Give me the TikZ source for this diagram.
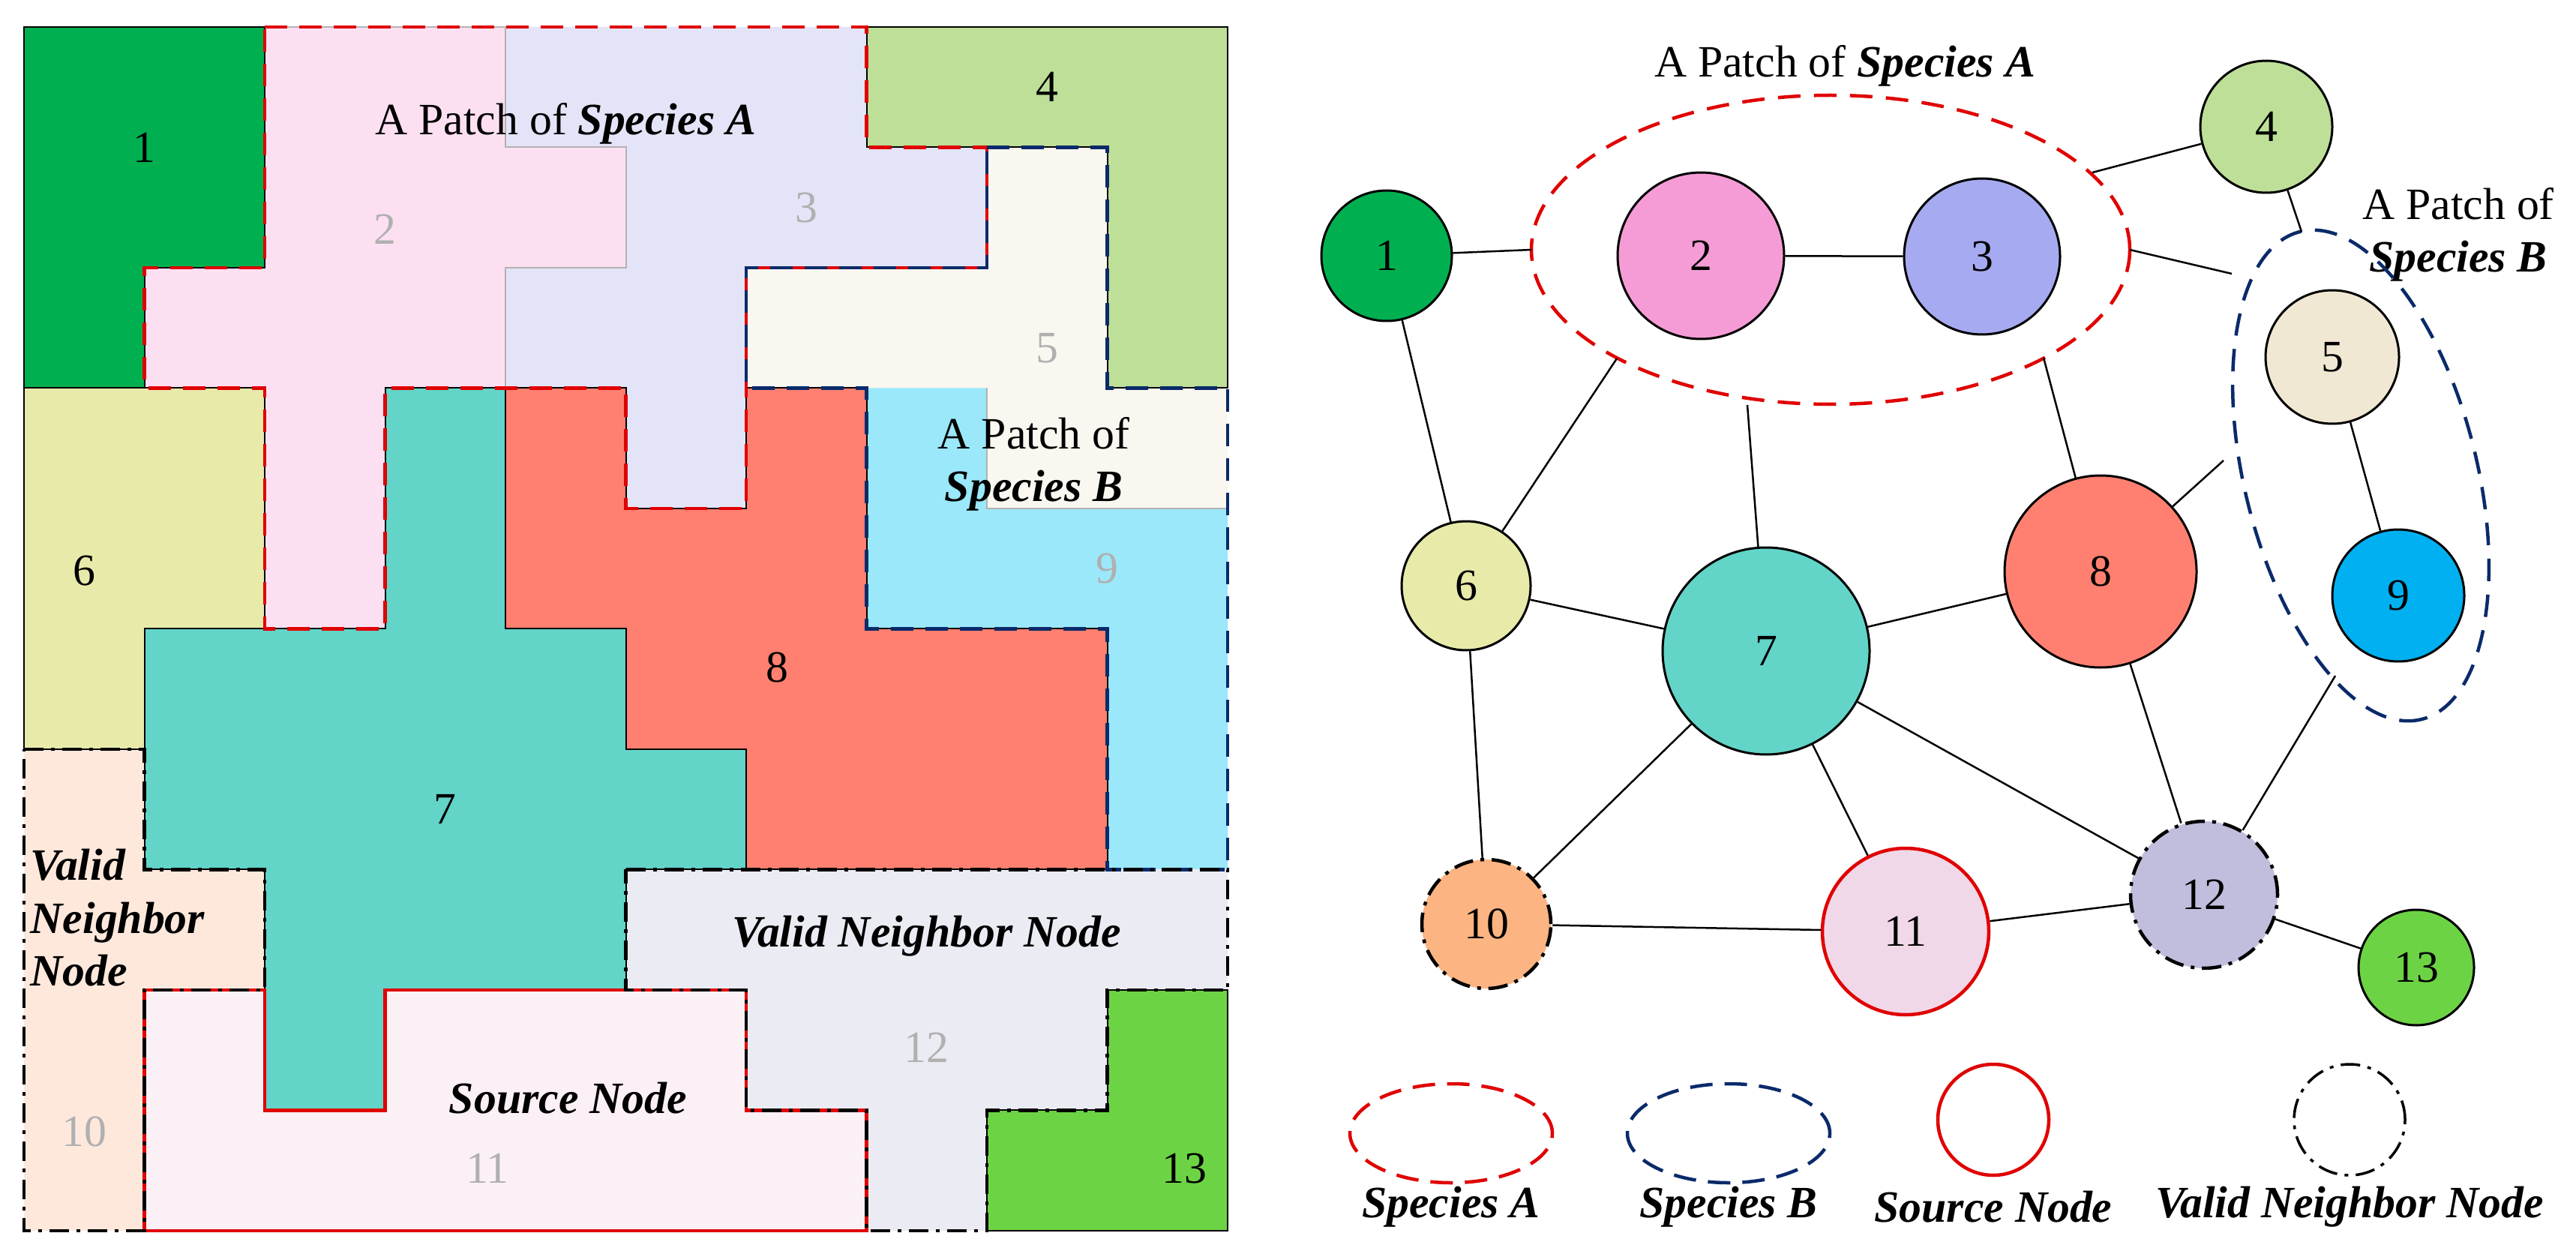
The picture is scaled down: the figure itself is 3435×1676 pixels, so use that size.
\documentclass[tikz,border=0pt]{standalone}
\usepackage{fontspec}
\setmainfont{Liberation Serif}
\usetikzlibrary{shapes.geometric}
\definecolor{c1}{HTML}{00B050}\definecolor{c2}{HTML}{FCE0F2}\definecolor{c3}{HTML}{E4E4F8}
\definecolor{c4}{HTML}{BEDF98}\definecolor{c5}{HTML}{FAF6F0}\definecolor{c6}{HTML}{E8EAAA}
\definecolor{c7}{HTML}{62D4C8}\definecolor{c8}{HTML}{FF8070}\definecolor{c9}{HTML}{9AE8FA}
\definecolor{c10}{HTML}{FEE8DC}\definecolor{c11}{HTML}{FBF0F6}\definecolor{c12}{HTML}{EBEBF3}
\definecolor{c13}{HTML}{6CD444}
\definecolor{n2}{HTML}{F59CD6}\definecolor{n3}{HTML}{A6AAF0}\definecolor{n5}{HTML}{F0E8D2}
\definecolor{n9}{HTML}{00B0F0}\definecolor{n10}{HTML}{FCB482}\definecolor{n11}{HTML}{F0D8E8}
\definecolor{n12}{HTML}{C0BEDC}
\definecolor{redA}{HTML}{E00000}\definecolor{navyB}{HTML}{0A2A6A}\definecolor{gnum}{HTML}{B0B0B0}
\tikzset{
  reg/.style={draw=black, line width=0.2mm},
  regg/.style={draw=black!30, line width=0.2mm},
  patchA/.style={draw=redA, line width=0.45mm, dash pattern=on 3mm off 1.6mm},
  patchB/.style={draw=navyB, line width=0.45mm, dash pattern=on 3mm off 1.6mm},
  valid/.style={draw=black, line width=0.45mm, dash pattern=on 2.6mm off 1mm on 0.5mm off 1mm},
  source/.style={draw=redA, line width=0.45mm},
  lbl/.style={font=\fontsize{17}{20}\selectfont, inner sep=0, align=center},
  glbl/.style={lbl, text=gnum},
  bi/.style={font=\fontsize{17}{20}\selectfont\bfseries\itshape},
  nd/.style={circle, draw=black, line width=0.3mm, inner sep=0, font=\fontsize{17}{20}\selectfont},
  ed/.style={draw=black, line width=0.25mm},
}
\begin{document}
\begin{tikzpicture}[x=0.1mm, y=-0.1mm]
\useasboundingbox (0,0) rectangle (3435,1676);
% ---------------- left grid ----------------
\begin{scope}[shift={(32,36)}, x=16.05mm, y=-16.05mm]
\fill[c1] (0,0)--(2,0)--(2,2)--(1,2)--(1,3)--(0,3)--cycle;
\fill[c2] (2,0)--(4,0)--(4,1)--(5,1)--(5,2)--(4,2)--(4,3)--(3,3)--(3,5)--(2,5)--(2,3)--(1,3)--(1,2)--(2,2)--cycle;
\fill[c3] (4,0)--(7,0)--(7,1)--(8,1)--(8,2)--(6,2)--(6,4)--(5,4)--(5,3)--(4,3)--(4,2)--(5,2)--(5,1)--(4,1)--cycle;
\fill[c4] (7,0)--(10,0)--(10,3)--(9,3)--(9,1)--(7,1)--cycle;
\fill[c5] (8,1)--(9,1)--(9,3)--(10,3)--(10,4)--(8,4)--(8,3)--(6,3)--(6,2)--(8,2)--cycle;
\fill[c9] (7,3)--(8,3)--(8,4)--(10,4)--(10,7)--(9,7)--(9,5)--(7,5)--cycle;
\fill[c8] (4,3)--(5,3)--(5,4)--(6,4)--(6,3)--(7,3)--(7,5)--(9,5)--(9,7)--(6,7)--(6,6)--(5,6)--(5,5)--(4,5)--cycle;
\fill[c7] (3,3)--(4,3)--(4,5)--(5,5)--(5,6)--(6,6)--(6,7)--(5,7)--(5,8)--(3,8)--(3,9)--(2,9)--(2,7)--(1,7)--(1,5)--(3,5)--cycle;
\fill[c6] (0,3)--(2,3)--(2,5)--(1,5)--(1,6)--(0,6)--cycle;
\fill[c10] (0,6)--(1,6)--(1,7)--(2,7)--(2,8)--(1,8)--(1,10)--(0,10)--cycle;
\fill[c11] (1,8)--(2,8)--(2,9)--(3,9)--(3,8)--(6,8)--(6,9)--(7,9)--(7,10)--(1,10)--cycle;
\fill[c12] (5,7)--(10,7)--(10,8)--(9,8)--(9,9)--(8,9)--(8,10)--(7,10)--(7,9)--(6,9)--(6,8)--(5,8)--cycle;
\fill[c13] (9,8)--(10,8)--(10,10)--(8,10)--(8,9)--(9,9)--cycle;
% thin outlines
\draw[regg] (2,0)--(4,0)--(4,1)--(5,1)--(5,2)--(4,2)--(4,3)--(3,3)--(3,5)--(2,5)--(2,3)--(1,3)--(1,2)--(2,2)--cycle;
\draw[regg] (8,3)--(8,4)--(10,4);
\draw[reg] (0,0)--(2,0)--(2,2)--(1,2)--(1,3)--(0,3)--cycle;
\draw[reg] (7,0)--(10,0)--(10,3)--(9,3)--(9,1)--(7,1)--cycle;
\draw[reg] (4,3)--(5,3)--(5,4)--(6,4)--(6,3)--(7,3)--(7,5)--(9,5)--(9,7)--(6,7)--(6,6)--(5,6)--(5,5)--(4,5)--cycle;
\draw[reg] (3,3)--(4,3)--(4,5)--(5,5)--(5,6)--(6,6)--(6,7)--(5,7)--(5,8)--(3,8)--(3,9)--(2,9)--(2,7)--(1,7)--(1,5)--(3,5)--cycle;
\draw[reg] (0,3)--(2,3)--(2,5)--(1,5)--(1,6)--(0,6)--cycle;
\draw[reg] (9,8)--(10,8)--(10,10)--(8,10)--(8,9)--(9,9)--cycle;
% patches and special nodes
\draw[patchA] (2,0)--(7,0)--(7,1)--(8,1)--(8,2)--(6,2)--(6,4)--(5,4)--(5,3)--(3,3)--(3,5)--(2,5)--(2,3)--(1,3)--(1,2)--(2,2)--cycle;
\draw[patchB] (8,1)--(9,1)--(9,3)--(10,3)--(10,7)--(9,7)--(9,5)--(7,5)--(7,3)--(6,3)--(6,2)--(8,2)--cycle;
\draw[source] (1,8)--(2,8)--(2,9)--(3,9)--(3,8)--(6,8)--(6,9)--(7,9)--(7,10)--(1,10)--cycle;
\draw[valid] (0,6)--(1,6)--(1,7)--(2,7)--(2,8)--(1,8)--(1,10)--(0,10)--cycle;
\draw[valid] (5,7)--(10,7)--(10,8)--(9,8)--(9,9)--(8,9)--(8,10)--(7,10)--(7,9)--(6,9)--(6,8)--(5,8)--cycle;
% labels
\node[lbl] (g1) at (1,1) {1};
\node[glbl] (g2) at (3,1.68) {2};
\node[glbl] (g3) at (6.5,1.5) {3};
\node[lbl] (g4) at (8.5,0.5) {4};
\node[glbl] (g5) at (8.5,2.67) {5};
\node[lbl] (g6) at (0.5,4.52) {6};
\node[lbl] (g7) at (3.5,6.5) {7};
\node[lbl] (g8) at (6.26,5.32) {8};
\node[glbl] (g9) at (9,4.5) {9};
\node[glbl] (g10) at (0.5,9.18) {10};
\node[glbl] (g11) at (3.85,9.48) {11};
\node[glbl] (g12) at (7.5,8.48) {12};
\node[lbl] (g13) at (9.64,9.48) {13};
\node[lbl] (tA) at (4.5,0.8) {A Patch of \textbf{\textit{Species A}}};
\node[lbl] (tB) at (8.39,3.63) {A Patch of\\\textbf{\textit{Species B}}};
\node[lbl, bi, align=left, anchor=west] (tV1) at (0.05,7.4) {Valid\\Neighbor\\Node};
\node[lbl, bi] (tV2) at (7.5,7.55) {Valid Neighbor Node};
\node[lbl, bi] (tS) at (4.52,8.9) {Source Node};
\end{scope}
% ---------------- right graph ----------------
\node[lbl] (rtA) at (2460,88) {A Patch of \textbf{\textit{Species A}}};
\node[lbl] (rtB) at (3278,313) {A Patch of\\\textbf{\textit{Species B}}};
\draw[patchA, dash pattern=on 3mm off 1.8mm] (2441,333) ellipse [x radius=399, y radius=206];
\draw[patchB, dash pattern=on 3mm off 1.8mm, rotate around={-76:(3148,634)}] (3148,634) ellipse [x radius=335, y radius=155];
\coordinate (aL) at (2042,333);
\coordinate (aNE) at (2790,230);
\coordinate (aE) at (2840,333);
\coordinate (aSW) at (2156,478);
\coordinate (aS) at (2330,540);
\coordinate (aSE) at (2725,477);
\coordinate (bNW) at (2976,365);
\coordinate (bTop) at (3069,309);
\coordinate (bW) at (2965,614);
\coordinate (bS) at (3114,901);
\node[nd, fill=c1, minimum size=17.4mm] (n1) at (1849,341) {1};
\node[nd, fill=n2, minimum size=22.2mm] (n2) at (2268,341) {2};
\node[nd, fill=n3, minimum size=20.8mm] (n3) at (2643,342) {3};
\node[nd, fill=c4, minimum size=17.6mm] (n4) at (3022,169) {4};
\node[nd, fill=n5, minimum size=17.8mm] (n5) at (3110,476) {5};
\node[nd, fill=c6, minimum size=17.2mm] (n6) at (1955,781) {6};
\node[nd, fill=c7, minimum size=27.6mm] (n7) at (2355,868) {7};
\node[nd, fill=c8, minimum size=25.6mm] (n8) at (2801,762) {8};
\node[nd, fill=n9, minimum size=17.6mm] (n9) at (3198,794) {9};
\node[nd, fill=n10, minimum size=17.2mm, valid] (n10) at (1982,1232) {10};
\node[nd, fill=n11, minimum size=22.2mm, source] (n11) at (2541,1242) {11};
\node[nd, fill=n12, minimum size=19.6mm, valid] (n12) at (2939,1193) {12};
\node[nd, fill=c13, minimum size=15.4mm] (n13) at (3222,1290) {13};
\draw[ed] (n1)--(aL); \draw[ed] (n4)--(aNE); \draw[ed] (aE)--(bNW);
\draw[ed] (n6)--(aSW); \draw[ed] (aS)--(n7); \draw[ed] (aSE)--(n8);
\draw[ed] (n4)--(bTop); \draw[ed] (n8)--(bW); \draw[ed] (n12)--(bS);
\draw[ed] (n2)--(n3); \draw[ed] (n5)--(n9);
\draw[ed] (n1)--(n6); \draw[ed] (n6)--(n7); \draw[ed] (n6)--(n10);
\draw[ed] (n7)--(n8); \draw[ed] (n7)--(n10); \draw[ed] (n7)--(n11);
\draw[ed] (n7)--(n12); \draw[ed] (n8)--(n12); \draw[ed] (n10)--(n11);
\draw[ed] (n11)--(n12); \draw[ed] (n12)--(n13);
% legend
\node[ellipse, patchA, minimum width=27mm, minimum height=13.2mm] (lA) at (1935,1511) {};
\node[ellipse, patchB, minimum width=27mm, minimum height=13.2mm] (lB) at (2305,1511) {};
\node[circle, source, minimum size=14.8mm] (lS) at (2658,1493) {};
\node[circle, valid, line width=0.35mm, minimum size=14.8mm] (lV) at (3133,1493) {};
\node[lbl, bi] (tlA) at (1935,1609) {Species A};
\node[lbl, bi] (tlB) at (2305,1609) {Species B};
\node[lbl, bi] (tlS) at (2658,1609) {Source Node};
\node[lbl, bi] (tlV) at (3133,1609) {Valid Neighbor Node};
\end{tikzpicture}
\end{document}
